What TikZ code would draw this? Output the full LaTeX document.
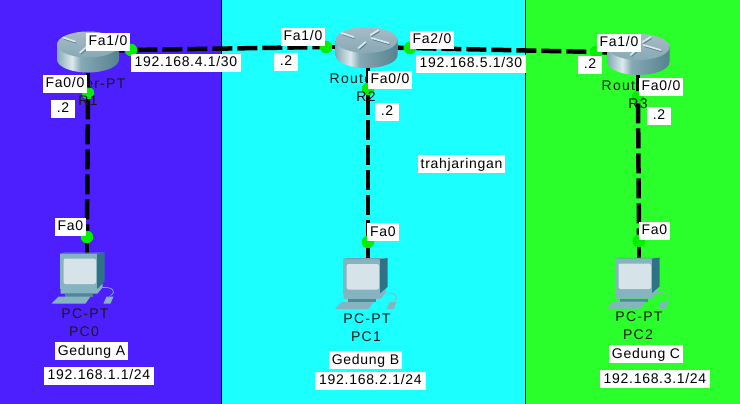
\documentclass[tikz,border=0pt]{standalone}
\usepackage{fontspec}
\setmainfont{Liberation Sans}
\newfontfamily\lblfont[LetterSpace=5]{Liberation Sans}
\newfontfamily\capfont[LetterSpace=9]{Liberation Sans}
\usepackage{xcolor}
\usetikzlibrary{positioning}

\definecolor{bgA}{HTML}{4D1FFF}
\definecolor{bgB}{HTML}{1CFFFF}
\definecolor{bgC}{HTML}{2BFF2B}
\definecolor{portgreen}{HTML}{00F000}
\definecolor{metalD}{HTML}{55828F}
\definecolor{metalM}{HTML}{86A9B5}
\definecolor{metalL}{HTML}{DCEAEE}
\definecolor{metalT}{HTML}{A9BBC6}
\definecolor{pcdark}{HTML}{4F8698}
\definecolor{pcmid}{HTML}{86B3C0}
\definecolor{pcside}{HTML}{2F7288}
\definecolor{pcscreen}{HTML}{D6E4EA}

\pgfdeclarehorizontalshading{rtbody}{100bp}{color(0bp)=(metalM); color(25bp)=(metalM);
  color(37bp)=(metalL); color(44bp)=(metalM); color(75bp)=(metalD); color(100bp)=(metalD)}

\begin{document}
\begin{tikzpicture}[
    x=1pt, y=-1pt,
    every node/.style = {font=\fontsize{14}{16}\selectfont},
    panel/.style = {draw=black, line width=1pt},
    routerbox/.style = {rectangle, minimum width=62pt, minimum height=42pt, inner sep=0pt},
    pcbox/.style = {rectangle, minimum width=62pt, minimum height=50pt, inner sep=0pt},
    port/.style = {circle, fill=portgreen, minimum size=12.5pt, inner sep=0pt},
    link/.style = {line width=4.5pt, black, dash pattern=on 20pt off 5pt},
    stub/.style = {line width=4.5pt, black},
    lbl/.style = {fill=white, inner xsep=3pt, inner ysep=0pt, text height=11pt, text depth=3pt,
                  minimum height=18pt, font=\fontsize{14}{16}\selectfont\lblfont},
    addr/.style = {lbl, inner xsep=4pt},
    dot/.style = {lbl, inner xsep=6pt},
    caption/.style = {inner sep=0pt, text=black!90, font=\fontsize{14}{16}\selectfont\capfont},
    rtmark/.style = {metalL, line width=1.6pt, line cap=round},
    routerpic/.pic = {
        \shade[shading=rtbody] (-31,-7) -- (-31,8) arc[start angle=180, end angle=360, x radius=31, y radius=-13]
            -- (31,-7) -- cycle;
        \shade[top color=metalT, bottom color=metalM]
            (0,-7) ellipse[x radius=31, y radius=13];
        \draw[metalD, line width=1pt] (-24,-12.5) -- (-12,-8.5) (5,-10.5) -- (13,-15.5) (6,-7.5) -- (23,-2.5) (-7,2.5) -- (0,-3.5);
        \draw[rtmark] (-25,-14) -- (-13,-10);
        \draw[rtmark] (4,-12) -- (12,-17);
        \draw[rtmark] (5,-9) -- (22,-4);
        \draw[rtmark] (-8,1) -- (-1,-5);
    },
    pcpic/.pic = {
        % monitor
        \fill[pcside] (13,-25) -- (21,-26) -- (21,3) -- (13,10) -- cycle;
        \fill[pcmid] (-24,-25) -- (13,-25) -- (13,10) -- (-24,10) -- cycle;
        \fill[pcdark!40!pcmid] (-24,-25) -- (-19,-26) -- (21,-26) -- (13,-25) -- cycle;
        \fill[pcscreen, rounded corners=2pt] (-20,-20) rectangle (12.5,5.5);
        % stand
        \fill[pcmid] (-23,10) -- (14,10) -- (19,5) -- (19,9) -- (14,15) -- (-23,15) -- cycle;
        \fill[pcdark] (-19,15) -- (9,15) -- (9,18) -- (-19,18) -- cycle;
        % keyboard and mouse
        \fill[pcmid] (-32,25) -- (-25,18) -- (7,18) -- (2,25) -- cycle;
        \fill[pcmid] (20,25) -- (23,18) -- (30,18) -- (27,25) -- cycle;
        \draw[pcmid, line width=.7pt] (19,9) .. controls (28,8) and (34,13) .. (27,17);
    },
]
\useasboundingbox (0,0) rectangle (740,404);

% background
\fill[bgA] (0,0) rectangle (221,404);
\draw[panel, fill=bgB] (221.5,-2) rectangle (525.5,406);
\fill[bgC] (526,0) rectangle (740,404);

% devices
\node[routerbox] (R1) at (88,51.5) {};
\node[routerbox] (R2) at (366.5,47) {};
\node[routerbox] (R3) at (638.5,54) {};
\node[pcbox] (PC0) at (83.5,278.5) {};
\node[pcbox] (PC1) at (366.5,284) {};
\node[pcbox] (PC2) at (638.5,283.5) {};

% ports
\node[port] (R1e) at (131,50) {};
\node[port] (R1s) at (88,93) {};
\node[port] (R2w) at (326,47) {};
\node[port] (R2e) at (410,48) {};
\node[port] (R2s) at (368,89) {};
\node[port] (R3w) at (596,52) {};
\node[port] (R3s) at (638,97) {};
\node[port] (PC0n) at (87,237) {};
\node[port] (PC1n) at (368,242) {};
\node[port] (PC2n) at (639,241) {};

% links
\draw[stub] (R1) -- (R1e);
\draw[link] (R1e) -- (R2w);
\draw[stub] (R2w) -- (R2);
\draw[stub] (R2) -- (R2e);
\draw[link] (R2e) -- (R3w);
\draw[stub] (R3w) -- (R3);
\draw[stub] (R1s |- R1.south) -- (R1s);
\draw[link] (R1s) -- (PC0n);
\draw[stub] (PC0n) -- (PC0n |- PC0.north);
\draw[stub] (R2s |- R2.south) -- (R2s);
\draw[link] (R2s) -- (PC1n);
\draw[stub] (PC1n) -- (PC1n |- PC1.north);
\draw[stub] (R3s |- R3.south) -- (R3s);
\draw[link] (R3s) -- (PC2n);
\draw[stub] (PC2n) -- (PC2n |- PC2.north);

\pic at (R1) {routerpic};
\pic at (R2) {routerpic};
\pic at (R3) {routerpic};
\pic at (PC0) {pcpic};
\pic at (PC1) {pcpic};
\pic at (PC2) {pcpic};

% device captions
\node[caption] (capR1) at (88,84) {Router-PT};
\node[caption] (nameR1) at (88,101) {R1};
\node[caption] (capR2) at (367,79) {Router-PT};
\node[caption] (nameR2) at (366,97) {R2};
\node[caption] (capR3) at (639,86) {Router-PT};
\node[caption] (nameR3) at (638,104) {R3};
\node[caption] (capPC0) at (85,314) {PC-PT};
\node[caption] (namePC0) at (84,332) {PC0};
\node[caption] (capPC1) at (367,319) {PC-PT};
\node[caption] (namePC1) at (366,337) {PC1};
\node[caption] (capPC2) at (639,317) {PC-PT};
\node[caption] (namePC2) at (638,335) {PC2};

% interface labels
\node[lbl] (lR1e) at (108,42) {Fa1/0};
\node[lbl] (lR1s) at (65,84) {Fa0/0};
\node[lbl] (lR2w) at (303,37) {Fa1/0};
\node[lbl] (lR2e) at (432,40) {Fa2/0};
\node[lbl] (lR2s) at (390,80) {Fa0/0};
\node[lbl] (lR3w) at (619,43) {Fa1/0};
\node[lbl] (lR3s) at (661,87) {Fa0/0};
\node[lbl] (lPC0) at (70.5,226.5) {Fa0};
\node[lbl] (lPC1) at (383,232) {Fa0};
\node[lbl] (lPC2) at (654.5,230.5) {Fa0};

% addresses
\node[addr] (ipA) at (186,63) {192.168.4.1/30};
\node[addr] (ipB) at (471,64) {192.168.5.1/30};
\node[dot] (d1) at (63,109) {.2};
\node[dot] (d2) at (286,62) {.2};
\node[dot] (d3) at (387,112) {.2};
\node[dot] (d4) at (590,65) {.2};
\node[dot] (d5) at (659,116) {.2};
\node[lbl] (trah) at (461.5,164) {trahjaringan};

% buildings
\node[lbl] (gedA) at (91.5,351) {Gedung A};
\node[addr] (ip1) at (99,375.5) {192.168.1.1/24};
\node[lbl] (gedB) at (365.5,360) {Gedung B};
\node[addr] (ip2) at (370.5,380.5) {192.168.2.1/24};
\node[lbl] (gedC) at (646,354) {Gedung C};
\node[addr] (ip3) at (655,379) {192.168.3.1/24};
\end{tikzpicture}
\end{document}
